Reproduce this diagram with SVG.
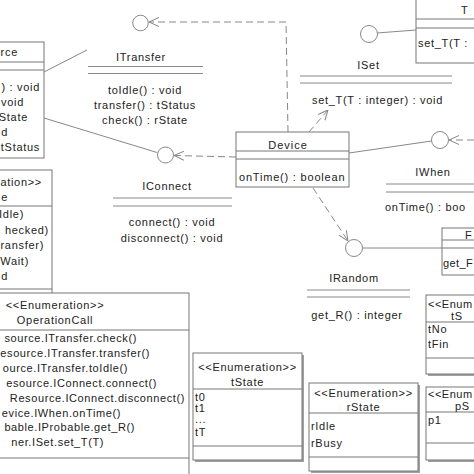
<svg xmlns="http://www.w3.org/2000/svg" width="474" height="474" viewBox="0 0 474 474">
<style>
text{font-family:"Liberation Sans",Arial,sans-serif;font-size:11px;fill:#222;letter-spacing:0.7px}
.m{text-anchor:middle}
.e{text-anchor:end}
.op{letter-spacing:0.6px}
.box{fill:#fff;stroke:#777;stroke-width:1}
.sh{fill:#a0a0a0}
.dv{stroke:#777;stroke-width:1}
.il{stroke:#888;stroke-width:1}
.ln{stroke:#888;stroke-width:1;fill:none}
.ds{stroke:#888;stroke-width:1;fill:none;stroke-dasharray:7,4}
.ci{fill:#fff;stroke:#888;stroke-width:1}
</style>
<defs>
<marker id="arr" viewBox="0 0 10 10" refX="10" refY="5" markerWidth="10" markerHeight="10" markerUnits="userSpaceOnUse" orient="auto">
<path d="M0,0.5 L10,5 L0,9.5" fill="none" stroke="#888" stroke-width="1"/>
</marker>
</defs>
<rect width="474" height="474" fill="#fff"/>

<g id="connectors">
<line class="ln" x1="44" y1="72" x2="87" y2="50"/>
<line class="ln" x1="44" y1="118" x2="157" y2="152.5"/>
<polyline class="ds" points="288,132 286,22 149,22" marker-end="url(#arr)"/>
<line class="ds" x1="236" y1="157" x2="174" y2="155.5" marker-end="url(#arr)"/>
<line class="ds" x1="309" y1="132" x2="328" y2="110" marker-end="url(#arr)"/>
<line class="ln" x1="349" y1="153" x2="431.6" y2="141"/>
<line class="ds" x1="474" y1="140" x2="449" y2="140" marker-end="url(#arr)"/>
<line class="ds" x1="313" y1="188" x2="348" y2="241" marker-end="url(#arr)"/>
<line class="ln" x1="362.5" y1="248" x2="442" y2="248"/>
<line class="ln" x1="377" y1="33" x2="416" y2="30"/>
</g>

<g id="lollipop-itransfer"><circle class="ci" cx="140.5" cy="23" r="7.8"/></g>
<g id="lollipop-iconnect"><circle class="ci" cx="165.5" cy="155" r="8"/></g>
<g id="lollipop-iset"><circle class="ci" cx="369" cy="34" r="8.5"/></g>
<g id="lollipop-iwhen"><circle class="ci" cx="440" cy="140" r="8.5"/></g>
<g id="lollipop-irandom"><circle class="ci" cx="354" cy="248" r="8.5"/></g>

<g id="resource">
<rect class="box" x="-10" y="42" width="54" height="116"/>
<line class="dv" x1="-10" y1="62" x2="44" y2="62"/>
<line class="dv" x1="-10" y1="70" x2="44" y2="70"/>
<text class="e" x="18" y="56">rce</text>
<text class="e" x="40" y="91">) : void</text>
<text class="e" x="24" y="106">void</text>
<text class="e" x="28" y="121">State</text>
<text class="e" x="8" y="136">d</text>
<text class="e" x="40" y="151">tStatus</text>
</g>

<g id="enum-left">
<rect class="box" x="-10" y="170" width="62" height="130"/>
<line class="dv" x1="-10" y1="206" x2="52" y2="206"/>
<line class="dv" x1="-10" y1="289" x2="52" y2="289"/>
<text class="e" x="42" y="186">ation&gt;&gt;</text>
<text class="e" x="8" y="201">e</text>
<text class="e" x="24" y="218">Idle)</text>
<text class="e" x="49" y="233.5">hecked)</text>
<text class="e" x="44" y="249">ransfer)</text>
<text class="e" x="29" y="264.5">Wait)</text>
<text class="e" x="8" y="280">d</text>
</g>

<g id="operationcall">
<rect class="box" x="-10" y="293" width="199" height="200"/>
<line class="dv" x1="-10" y1="330" x2="189" y2="330"/>
<line class="dv" x1="-10" y1="458" x2="189" y2="458"/>
<text class="m" x="55" y="309">&lt;&lt;Enumeration&gt;&gt;</text>
<text class="m" x="55" y="324">OperationCall</text>
<text class="e op" x="137" y="342">source.ITransfer.check()</text>
<text class="e op" x="150" y="357">esource.ITransfer.transfer()</text>
<text class="e op" x="128" y="372">ource.ITransfer.toIdle()</text>
<text class="e op" x="157" y="386.5">esource.IConnect.connect()</text>
<text class="e op" x="185" y="401.5">Resource.IConnect.disconnect()</text>
<text class="e op" x="121" y="416.5">evice.IWhen.onTime()</text>
<text class="e op" x="135" y="431">bable.IProbable.get_R()</text>
<text class="e op" x="104" y="445.5">ner.ISet.set_T(T)</text>
</g>

<g id="itransfer">
<text class="m" x="141" y="61">ITransfer</text>
<line class="il" x1="88" y1="66.5" x2="203" y2="66.5"/>
<line class="il" x1="88" y1="73.5" x2="203" y2="73.5"/>
<text class="m" x="145" y="94">toIdle() : void</text>
<text class="m" x="145" y="109">transfer() : tStatus</text>
<text class="m" x="145" y="124">check() : rState</text>
</g>

<g id="iconnect">
<text class="m" x="167" y="190">IConnect</text>
<line class="il" x1="113" y1="198" x2="232" y2="198"/>
<line class="il" x1="113" y1="206" x2="232" y2="206"/>
<text class="m" x="172" y="226">connect() : void</text>
<text class="m" x="172" y="242">disconnect() : void</text>
</g>

<g id="device">
<rect class="box" x="236" y="132" width="113" height="55"/>
<line class="dv" x1="236" y1="151" x2="349" y2="151"/>
<line class="dv" x1="236" y1="159" x2="349" y2="159"/>
<text class="m" x="288" y="149" style="letter-spacing:1px">Device</text>
<text x="239" y="181" style="letter-spacing:0.8px">onTime() : boolean</text>
</g>

<g id="iset">
<text class="m" x="368.5" y="69">ISet</text>
<line class="il" x1="300" y1="76" x2="452" y2="76"/>
<line class="il" x1="300" y1="83" x2="452" y2="83"/>
<text class="m" x="377.5" y="104">set_T(T : integer) : void</text>
</g>

<g id="timer">
<rect class="box" x="416" y="-5" width="70" height="68"/>
<line class="dv" x1="416" y1="19" x2="486" y2="19"/>
<line class="dv" x1="416" y1="28" x2="486" y2="28"/>
<text x="461" y="14">T</text>
<text x="418" y="47">set_T(T :</text>
</g>

<g id="iwhen">
<text class="m" x="433" y="176">IWhen</text>
<line class="il" x1="386" y1="184" x2="474" y2="184"/>
<line class="il" x1="386" y1="192" x2="474" y2="192"/>
<text x="385" y="211">onTime() : boo</text>
</g>

<g id="f-box">
<rect class="box" x="442" y="228" width="50" height="47"/>
<line class="dv" x1="442" y1="240" x2="492" y2="240"/>
<line class="dv" x1="442" y1="248" x2="492" y2="248"/>
<text x="465" y="238.5">F</text>
<text x="443" y="267" style="letter-spacing:0.4px">get_F</text>
</g>

<g id="irandom">
<text class="m" x="354" y="282">IRandom</text>
<line class="il" x1="307" y1="290" x2="410" y2="290"/>
<line class="il" x1="307" y1="297" x2="410" y2="297"/>
<text class="m" x="357" y="319">get_R() : integer</text>
</g>

<g id="tstatus">
<rect class="sh" x="428" y="297" width="60" height="79"/>
<rect class="box" x="426" y="295" width="60" height="79"/>
<line class="dv" x1="426" y1="322" x2="486" y2="322"/>
<line class="dv" x1="426" y1="358" x2="486" y2="358"/>
<text x="428" y="307.5" style="letter-spacing:0.5px">&lt;&lt;Enum</text>
<text x="451" y="320">tS</text>
<text x="428" y="333">tNo</text>
<text x="428" y="348">tFin</text>
</g>

<g id="pstate">
<rect class="sh" x="428" y="389" width="60" height="73"/>
<rect class="box" x="426" y="387" width="60" height="73"/>
<line class="dv" x1="426" y1="412" x2="486" y2="412"/>
<line class="dv" x1="426" y1="443" x2="486" y2="443"/>
<text x="428" y="397.5" style="letter-spacing:0.5px">&lt;&lt;Enum</text>
<text x="455" y="410">pS</text>
<text x="428" y="424">p1</text>
</g>

<g id="rstate">
<rect class="sh" x="311" y="385" width="109" height="88"/>
<rect class="box" x="309" y="383" width="109" height="88"/>
<line class="dv" x1="309" y1="413" x2="418" y2="413"/>
<line class="dv" x1="309" y1="457" x2="418" y2="457"/>
<text class="m" x="363.5" y="397">&lt;&lt;Enumeration&gt;&gt;</text>
<text class="m" x="363.5" y="411">rState</text>
<text x="311" y="430">rIdle</text>
<text x="311" y="447">rBusy</text>
</g>

<g id="tstate">
<rect class="sh" x="195" y="355" width="109" height="107"/>
<rect class="box" x="193" y="353" width="109" height="107"/>
<line class="dv" x1="193" y1="389" x2="302" y2="389"/>
<line class="dv" x1="193" y1="446" x2="302" y2="446"/>
<text class="m" x="247.5" y="371">&lt;&lt;Enumeration&gt;&gt;</text>
<text class="m" x="247.5" y="386">tState</text>
<text x="195" y="401">t0</text>
<text x="195" y="411.5">t1</text>
<text x="195" y="423">...</text>
<text x="195" y="436">tT</text>
</g>
</svg>
